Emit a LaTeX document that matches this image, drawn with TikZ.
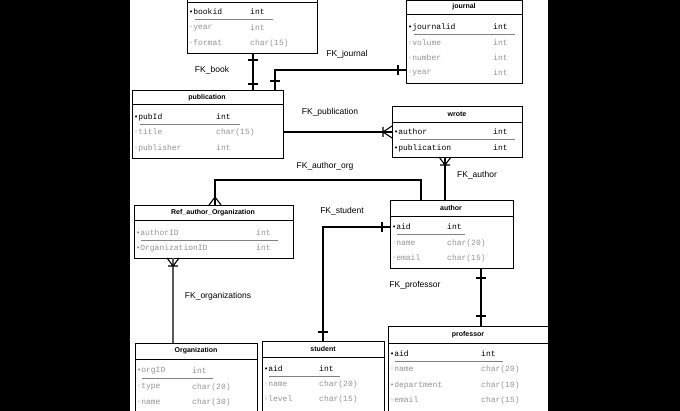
\documentclass[tikz,border=0pt]{standalone}
\usepackage{fontspec}
\setmainfont{Liberation Sans}
\newfontfamily\mono{Liberation Mono}
\newfontfamily\djfont{DejaVu Sans}
\begin{document}
\begin{tikzpicture}[x=1pt,y=-1pt,
 tbl/.style={draw,line width=1.1pt,minimum width=#1,inner sep=0pt,anchor=north west},
 ttl/.style={font=\fontsize{7}{8}\selectfont\bfseries,inner sep=0pt},
 fk/.style={font=\fontsize{8.5}{9}\selectfont,inner sep=0pt},
 fld/.style={font=\mono\fontsize{8}{9}\selectfont,inner sep=0pt,anchor=west},
 gf/.style={fld,text=gray!85},
 con/.style={line width=1.1pt},
 gcon/.style={line width=1.6pt,gray!70!black}]
\newcommand{\row}[8]{\node[#8] (#1a) at (#2,#3) {{\djfont\fontsize{7}{8}\selectfont #4}#5}; \node[#8] (#1b) at (#6,#3) {#7};}
\fill[black] (0,0) rectangle (680,411);
\fill[white] (130,0) rectangle (548,411);
\useasboundingbox (0,0) rectangle (680,411);
% book
\node[tbl=130,minimum height=56] (book) at (187,-3) {};
\draw[line width=1pt] (187,3)--(317,3);
\row{b1}{189}{12}{•}{bookid}{250}{int}{fld}
\draw[gray] (195,19)--(273,19);
\row{b2}{189}{28}{◦}{year}{250}{int}{gf}
\row{b3}{189}{43}{◦}{format}{250}{char(15)}{gf}
% journal
\node[tbl=116,minimum height=83] (journal) at (406,0) {};
\node[ttl] (jt) at (464,7) {journal};
\draw[line width=1pt] (406,15)--(522,15);
\row{j1}{408}{27}{•}{journalid}{493}{int}{fld}
\draw[gray] (414,34)--(515,34);
\row{j2}{408}{43}{◦}{volume}{493}{int}{gf}
\row{j3}{408}{58}{◦}{number}{493}{int}{gf}
\row{j4}{408}{73}{◦}{year}{493}{int}{gf}
% publication
\node[tbl=151,minimum height=68] (pub) at (132,90) {};
\node[ttl] (pt) at (207,98) {publication};
\draw[line width=1pt] (132,105)--(283,105);
\row{p1}{134}{117}{•}{pubId}{216}{int}{fld}
\draw[gray] (140,124)--(240,124);
\row{p2}{134}{132}{◦}{title}{216}{char(15)}{gf}
\row{p3}{134}{148}{◦}{publisher}{216}{int}{gf}
% wrote
\node[tbl=130,minimum height=51] (wrote) at (392,106) {};
\node[ttl] (wt) at (457,114) {wrote};
\draw[line width=1pt] (392,123)--(522,123);
\row{w1}{394}{132}{•}{author}{493}{int}{fld}
\draw[gray] (400,139)--(515,139);
\row{w2}{394}{148}{•}{publication}{493}{int}{fld}
% Ref_author_Organization
\node[tbl=159,minimum height=53] (ref) at (134,205) {};
\node[ttl] (rt) at (213,213) {Ref\_author\_Organization};
\draw[line width=1pt] (134,221)--(293,221);
\row{r1}{136}{233}{•}{authorID}{256}{int}{gf}
\draw[gray] (141,240)--(278,240);
\row{r2}{136}{248}{•}{OrganizationID}{256}{int}{gf}
% author
\node[tbl=123,minimum height=68] (author) at (390,200) {};
\node[ttl] (at) at (451,208) {author};
\draw[line width=1pt] (390,217)--(513,217);
\row{a1}{392}{227}{•}{aid}{447}{int}{fld}
\draw[gray] (397,234)--(465,234);
\row{a2}{392}{243}{◦}{name}{447}{char(20)}{gf}
\row{a3}{392}{258}{◦}{email}{447}{char(15)}{gf}
% Organization
\node[tbl=122,minimum height=75] (org) at (135,343) {};
\node[ttl] (ot) at (196,351) {Organization};
\draw[line width=1pt] (135,360)--(257,360);
\row{o1}{137}{371}{•}{orgID}{192}{int}{gf}
\draw[gray] (142,378)--(213,378);
\row{o2}{137}{387}{◦}{type}{192}{char(20)}{gf}
\row{o3}{137}{402}{◦}{name}{192}{char(30)}{gf}
% student
\node[tbl=122,minimum height=75] (student) at (262,341) {};
\node[ttl] (st) at (323,349) {student};
\draw[line width=1pt] (262,358)--(384,358);
\row{s1}{264}{369}{•}{aid}{319}{int}{fld}
\draw[gray] (269,376)--(340,376);
\row{s2}{264}{384}{◦}{name}{319}{char(20)}{gf}
\row{s3}{264}{399}{◦}{level}{319}{char(15)}{gf}
% professor
\node[tbl=160,minimum height=90] (prof) at (388,326) {};
\node[ttl] (prt) at (468,335) {professor};
\draw[line width=1pt] (388,344)--(548,344);
\row{q1}{390}{354}{•}{aid}{481}{int}{fld}
\draw[gray] (395,361)--(503,361);
\row{q2}{390}{369}{◦}{name}{481}{char(20)}{gf}
\row{q3}{390}{385}{•}{department}{481}{char(10)}{gf}
\row{q4}{390}{400}{◦}{email}{481}{char(15)}{gf}
% connectors
\draw[con] (253,53)--(253,90);
\draw[con] (248,60)--(258,60) (248,84)--(258,84);
\node[fk] (l1) at (212,70) {FK\_book};
\coordinate (jk) at (406,70);
\draw[con] (jk)--(275,70)--(275,90);
\draw[con] (398,65)--(398,75) (270,81)--(280,81);
\node[fk] (l2) at (347,54) {FK\_journal};
\draw[con] (283,132)--(392,132);
\draw[con] (383,132)--(392,126) (383,132)--(392,138) (383,127)--(383,137);
\node[fk] (l3) at (330,112) {FK\_publication};
\draw[con] (445,157)--(445,200);
\draw[con] (445,165)--(439,157) (445,165)--(451,157) (440,165)--(450,165);
\node[fk] (l4) at (477,175) {FK\_author};
\draw[con] (421,200)--(421,180)--(215,180)--(215,205);
\draw[con] (215,197)--(209,205) (215,197)--(221,205);
\node[fk] (l5) at (325,166) {FK\_author\_org};
\draw[con] (390,227)--(323,227)--(323,341);
\draw[con] (382,222)--(382,232) (318,332)--(328,332);
\node[fk] (l6) at (342,211) {FK\_student};
\draw[con] (481,268)--(481,326);
\draw[con] (476,278)--(486,278) (476,316)--(486,316);
\node[fk] (l7) at (415,285) {FK\_professor};
\draw[gcon] (173,258)--(173,343);
\draw[con] (173,266)--(167,258) (173,266)--(179,258) (168,266)--(178,266);
\node[fk] (l8) at (218,296) {FK\_organizations};
\end{tikzpicture}
\end{document}
